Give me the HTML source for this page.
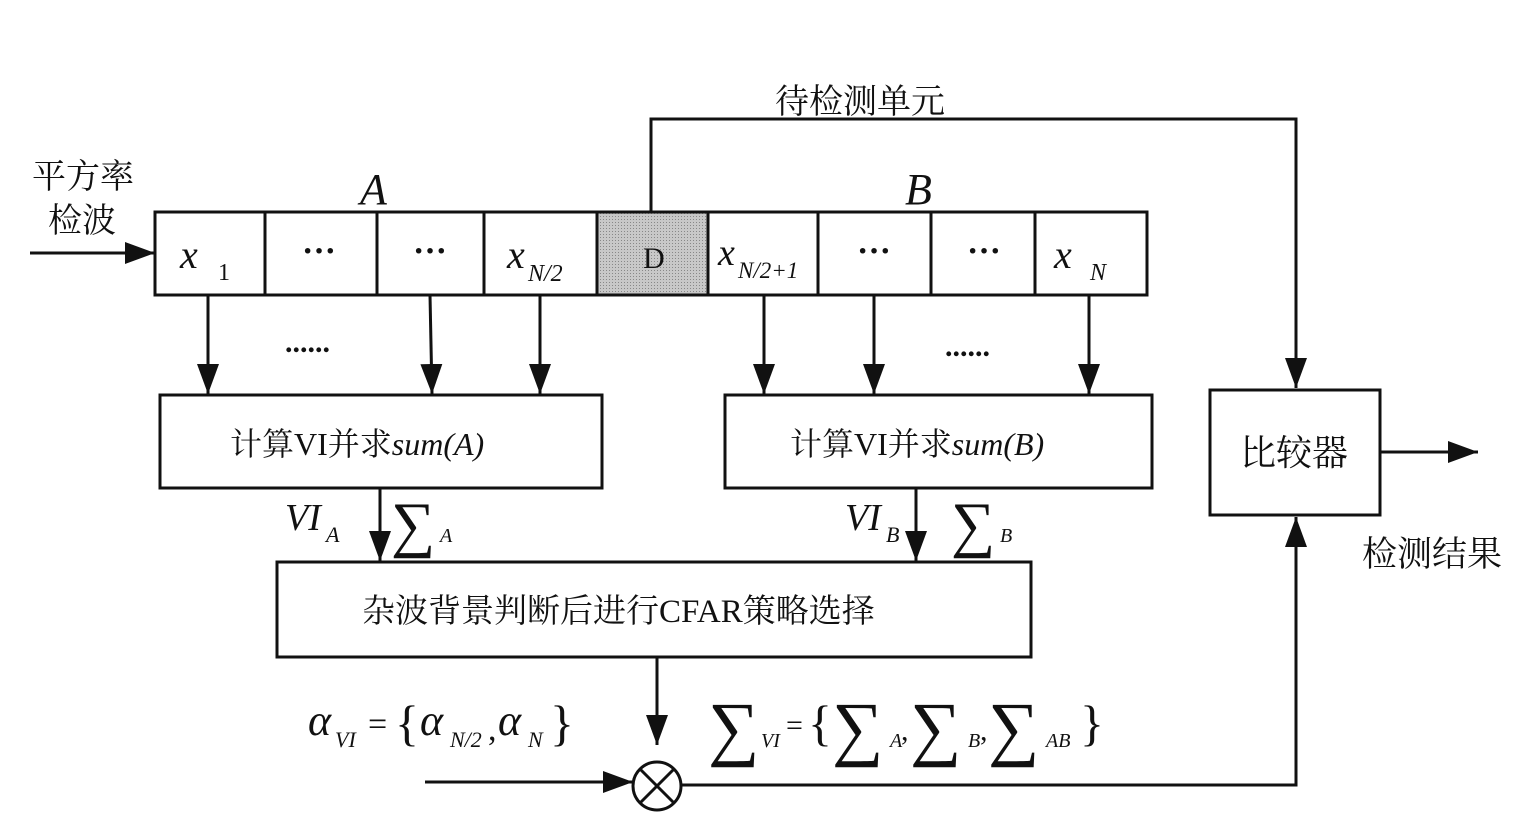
<!DOCTYPE html>
<html><head><meta charset="utf-8"><style>
html,body{margin:0;padding:0;background:#fff;width:1528px;height:832px;overflow:hidden}
text{font-family:"Liberation Serif","Noto Serif CJK SC","Noto Sans CJK SC",serif;fill:#111}
.cn{font-family:"Liberation Serif","Noto Serif CJK SC",serif}
.i{font-style:italic}
</style></head><body>
<svg width="1528" height="832" viewBox="0 0 1528 832" xmlns="http://www.w3.org/2000/svg">
<defs>
<marker id="ab" markerWidth="30" markerHeight="22" refX="30" refY="11" orient="auto" markerUnits="userSpaceOnUse"><path d="M0,0 L30,11 L0,22 Z" fill="#111"/></marker>
<pattern id="dots" width="3" height="3" patternUnits="userSpaceOnUse"><rect width="3" height="3" fill="#c8c8c8"/><rect width="1" height="1" fill="#888"/></pattern>
</defs>
<g stroke="#111" stroke-width="3" fill="none">
<polyline points="651,212 651,119 1296,119 1296,388" marker-end="url(#ab)"/>
<line x1="30" y1="253" x2="155" y2="253" marker-end="url(#ab)"/>
<rect x="597" y="212" width="111" height="83" fill="url(#dots)"/>
<rect x="155" y="212" width="992" height="83"/>
<line x1="265" y1="212" x2="265" y2="295"/><line x1="377" y1="212" x2="377" y2="295"/>
<line x1="484" y1="212" x2="484" y2="295"/><line x1="597" y1="212" x2="597" y2="295"/>
<line x1="708" y1="212" x2="708" y2="295"/><line x1="818" y1="212" x2="818" y2="295"/>
<line x1="931" y1="212" x2="931" y2="295"/><line x1="1035" y1="212" x2="1035" y2="295"/>
<line x1="208" y1="295" x2="208" y2="394" marker-end="url(#ab)"/>
<line x1="430" y1="295" x2="432" y2="394" marker-end="url(#ab)"/>
<line x1="540" y1="295" x2="540" y2="394" marker-end="url(#ab)"/>
<line x1="764" y1="295" x2="764" y2="394" marker-end="url(#ab)"/>
<line x1="874" y1="295" x2="874" y2="394" marker-end="url(#ab)"/>
<line x1="1089" y1="295" x2="1089" y2="394" marker-end="url(#ab)"/>
<rect x="160" y="395" width="442" height="93"/>
<rect x="725" y="395" width="427" height="93"/>
<rect x="1210" y="390" width="170" height="125"/>
<line x1="1380" y1="452" x2="1478" y2="452" marker-end="url(#ab)"/>
<line x1="380" y1="488" x2="380" y2="561" marker-end="url(#ab)"/>
<line x1="916" y1="488" x2="916" y2="561" marker-end="url(#ab)"/>
<rect x="277" y="562" width="754" height="95"/>
<line x1="657" y1="657" x2="657" y2="745" marker-end="url(#ab)"/>
<circle cx="657" cy="786" r="24"/>
<line x1="640" y1="769" x2="674" y2="803"/><line x1="674" y1="769" x2="640" y2="803"/>
<line x1="425" y1="782" x2="633" y2="782" marker-end="url(#ab)"/>
<polyline points="681,785 1296,785 1296,517" marker-end="url(#ab)"/>
</g>
<text x="775" y="113" font-size="34" class="cn">待检测单元</text>
<text x="32" y="188" font-size="34" class="cn">平方率</text>
<text x="48" y="232" font-size="34" class="cn">检波</text>
<text x="360" y="204" font-size="44" class="i">A</text>
<text x="905" y="204" font-size="44" class="i">B</text>
<text x="180" y="268" font-size="40" class="i">x</text><text x="218" y="280" font-size="24">1</text>
<g font-weight="bold" font-size="34">
<text x="302" y="262">···</text>
<text x="413" y="262">···</text>
<text x="857" y="262">···</text>
<text x="967" y="262">···</text>
</g>
<text x="507" y="268" font-size="40" class="i">x</text><text x="528" y="281" font-size="24" class="i">N/2</text>
<text x="643" y="268" font-size="30" fill="#555">D</text>
<text x="718" y="265" font-size="38" class="i">x</text><text x="738" y="278" font-size="23" class="i">N/2+1</text>
<text x="1054" y="268" font-size="40" class="i">x</text><text x="1090" y="280" font-size="24" class="i">N</text>
<text x="285" y="352" font-size="30" font-weight="bold">......</text>
<text x="945" y="356" font-size="30" font-weight="bold">......</text>
<text x="230" y="455" font-size="32" class="cn">计算VI并求<tspan class="i">sum(A)</tspan></text>
<text x="790" y="455" font-size="32" class="cn">计算VI并求<tspan class="i">sum(B)</tspan></text>
<text x="1240" y="465" font-size="36" class="cn">比较器</text>
<text x="1362" y="566" font-size="35" class="cn">检测结果</text>
<text x="285" y="530" font-size="38" class="i">VI</text><text x="326" y="542" font-size="22" class="i">A</text>
<text x="391" y="545" font-size="62">∑</text><text x="440" y="542" font-size="20" class="i">A</text>
<text x="845" y="530" font-size="38" class="i">VI</text><text x="886" y="542" font-size="22" class="i">B</text>
<text x="951" y="545" font-size="62">∑</text><text x="1000" y="542" font-size="20" class="i">B</text>
<text x="362" y="622" font-size="33" class="cn">杂波背景判断后进行CFAR策略选择</text>
<text x="308" y="735" font-size="44" class="i">α</text><text x="335" y="747" font-size="22" class="i">VI</text>
<text x="368" y="735" font-size="34">=</text><text x="395" y="740" font-size="50">{</text>
<text x="420" y="735" font-size="44" class="i">α</text><text x="450" y="747" font-size="22" class="i">N/2</text>
<text x="488" y="740" font-size="34">,</text>
<text x="498" y="735" font-size="44" class="i">α</text><text x="528" y="747" font-size="22" class="i">N</text>
<text x="550" y="740" font-size="50">}</text>
<text x="708" y="752" font-size="72">∑</text><text x="761" y="747" font-size="20" class="i">VI</text>
<text x="786" y="735" font-size="30">=</text><text x="808" y="740" font-size="50">{</text>
<text x="832" y="752" font-size="72">∑</text><text x="890" y="747" font-size="20" class="i">A</text><text x="901" y="740" font-size="30">,</text>
<text x="910" y="752" font-size="72">∑</text><text x="968" y="747" font-size="20" class="i">B</text><text x="980" y="740" font-size="30">,</text>
<text x="988" y="752" font-size="72">∑</text><text x="1046" y="747" font-size="20" class="i">AB</text>
<text x="1080" y="740" font-size="50">}</text>
</svg>
</body></html>
